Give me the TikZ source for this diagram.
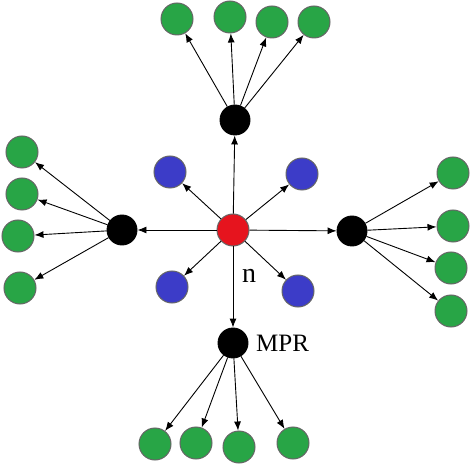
\documentclass[tikz,border=0pt]{standalone}
\usepackage{fontspec}
\setmainfont{Liberation Serif}
\usetikzlibrary{arrows.meta}
\usetikzlibrary{positioning}
\definecolor{leafgreen}{RGB}{40,165,70}
\definecolor{nbblue}{RGB}{60,60,200}
\definecolor{srcred}{RGB}{230,20,30}
\tikzstyle{leafnode}=[circle, draw=black!60, line width=1pt, fill=leafgreen, minimum size=32pt, inner sep=0pt]

\begin{document}
\begin{tikzpicture}[x=1pt, y=-1pt,
srcnode/.style={circle, draw=black!60, line width=1pt, fill=srcred, minimum size=32pt, inner sep=0pt},
nbnode/.style={circle, draw=black!60, line width=1pt, fill=nbblue, minimum size=32pt, inner sep=0pt},
mprnode/.style={circle, draw=black, fill=black, minimum size=30pt, inner sep=0pt},
>={Latex[length=9pt,width=7pt]}, every path/.style={line width=0.9pt}
]
\useasboundingbox (0,0) rectangle (474,465);

%Nodes
\node[srcnode]      (src_node)      at (233,230) {};
\node[nbnode]       (nb1_node)      at (170,172) {};
\node[nbnode]       (nb2_node)      at (302,174) {};
\node[nbnode]       (nb3_node)      at (172,287) {};
\node[nbnode]       (nb4_node)      at (298,291) {};

\node[mprnode]      (mprT_node)     at (235,120) {};
\node[mprnode]      (mprL_node)     at (122,230) {};
\node[mprnode]      (mprR_node)     at (352,231) {};
\node[mprnode]      (mprB_node)     at (233,343) {};

\node[leafnode]     (top1_node)     at (177,19) {};
\node[leafnode]     (top2_node)     at (230,17) {};
\node[leafnode]     (top3_node)     at (272,22) {};
\node[leafnode]     (top4_node)     at (314,22) {};

\node[leafnode]     (left1_node)    at (22,152) {};
\node[leafnode]     (left2_node)    at (22,194) {};
\node[leafnode]     (left3_node)    at (18,236) {};
\node[leafnode]     (left4_node)    at (20,288) {};

\node[leafnode]     (right1_node)   at (453,173) {};
\node[leafnode]     (right2_node)   at (453,226) {};
\node[leafnode]     (right3_node)   at (451,268) {};
\node[leafnode]     (right4_node)   at (451,311) {};

\node[leafnode]     (bot1_node)     at (155,444) {};
\node[leafnode]     (bot2_node)     at (196,443) {};
\node[leafnode]     (bot3_node)     at (239,447) {};
\node[leafnode]     (bot4_node)     at (293,443) {};

\node[font=\fontsize{28}{28}\selectfont] (n_label)   at (249,276) {n};
\node[font=\fontsize{25}{25}\selectfont] (mpr_label) [right=4pt of mprB_node] {MPR};

%Lines
\draw[->] (src_node) -- (nb1_node);
\draw[->] (src_node) -- (nb2_node);
\draw[->] (src_node) -- (nb3_node);
\draw[->] (src_node) -- (nb4_node);
\draw[->] (src_node) -- (mprT_node);
\draw[->] (src_node) -- (mprL_node);
\draw[->] (src_node) -- (mprR_node);
\draw[->] (src_node) -- (mprB_node);

\draw[->] (mprT_node) -- (top1_node);
\draw[->] (mprT_node) -- (top2_node);
\draw[->] (mprT_node) -- (top3_node);
\draw[->] (mprT_node) -- (top4_node);

\draw[->] (mprL_node) -- (left1_node);
\draw[->] (mprL_node) -- (left2_node);
\draw[->] (mprL_node) -- (left3_node);
\draw[->] (mprL_node) -- (left4_node);

\draw[->] (mprR_node) -- (right1_node);
\draw[->] (mprR_node) -- (right2_node);
\draw[->] (mprR_node) -- (right3_node);
\draw[->] (mprR_node) -- (right4_node);

\draw[->] (mprB_node) -- (bot1_node);
\draw[->] (mprB_node) -- (bot2_node);
\draw[->] (mprB_node) -- (bot3_node);
\draw[->] (mprB_node) -- (bot4_node);

\end{tikzpicture}
\end{document}
